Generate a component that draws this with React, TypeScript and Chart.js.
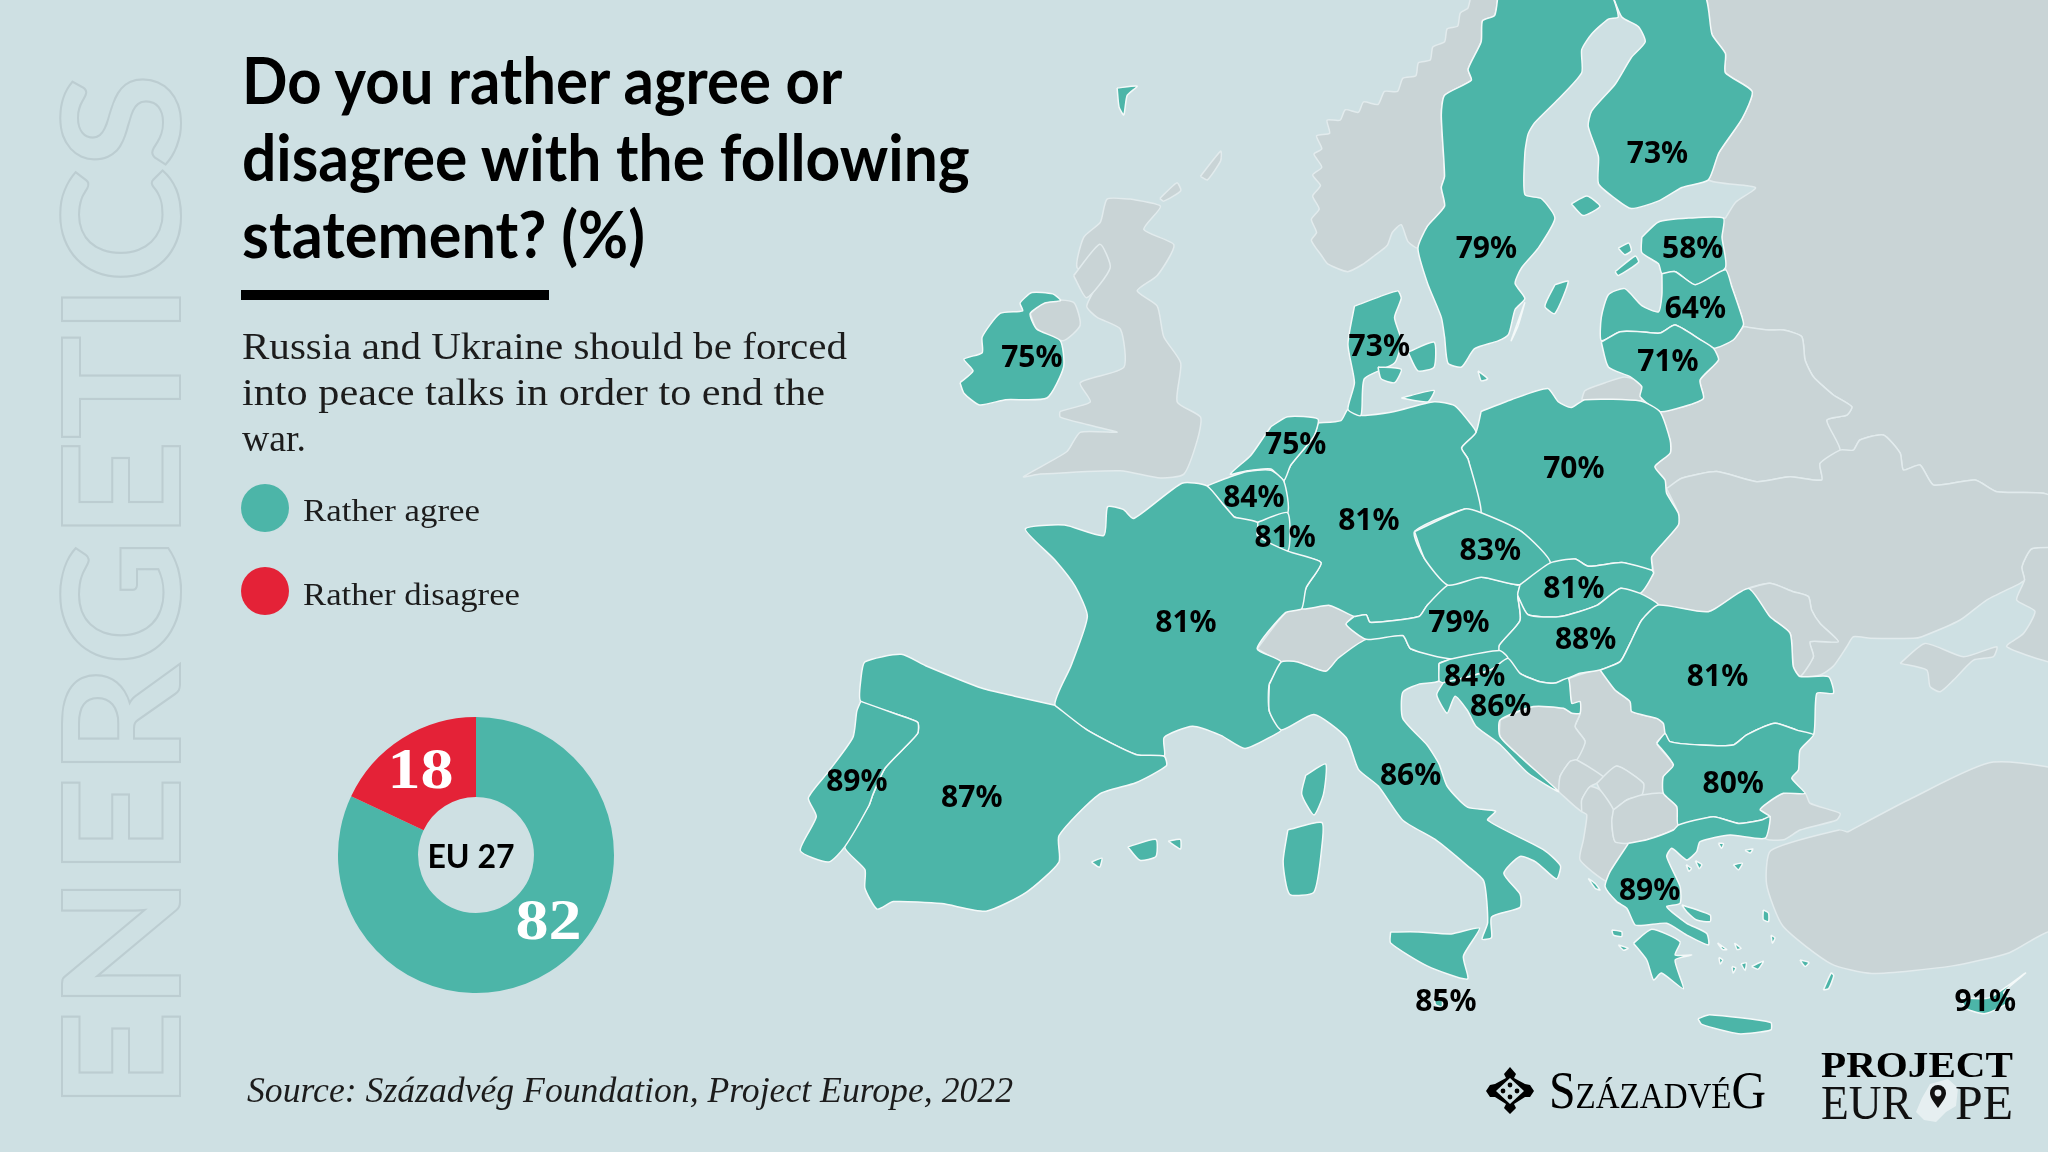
import React, { useEffect, useRef } from 'react';
import { Chart, registerables } from 'chart.js';

Chart.register(...registerables);

const SEA = '#cee0e3';
const TEAL = '#4cb5a8';
const RED = '#e42237';
const LAND = '#c9d4d6';

// doughnut
const donutCategories = ['Rather agree', 'Rather disagree'];
const donutValues = [82, 18];

// survey result per country, with the spot of its label in map units (1568 x 882)
const countries = ['Finland', 'Sweden', 'Estonia', 'Latvia', 'Lithuania', 'Denmark', 'Ireland', 'Netherlands', 'Poland', 'Belgium', 'Luxembourg', 'Germany', 'Czechia', 'Slovakia', 'France', 'Austria', 'Hungary', 'Romania', 'Slovenia', 'Croatia', 'Bulgaria', 'Portugal', 'Spain', 'Italy', 'Greece', 'Malta', 'Cyprus'];
const agreeShare = [73, 79, 58, 64, 71, 73, 75, 75, 70, 84, 81, 81, 83, 81, 81, 79, 88, 81, 84, 86, 80, 89, 87, 86, 89, 85, 91];
const labelX = [1269, 1138, 1296, 1298, 1277, 1056, 790, 992, 1205, 960, 984, 1048, 1141, 1205, 908, 1117, 1214, 1315, 1129, 1149, 1327, 656, 744, 1080, 1263, 1107, 1520];
const labelY = [116, 189, 189, 235, 275, 264, 272, 339, 357, 379, 410, 397, 420, 449, 475, 475, 488, 516, 516, 539, 598, 597, 609, 592, 680, 765, 765];

// outlines, x,y pairs in map units
const finland = [1234, -5, 1241.7, 13, 1254.5, 20.5, 1259.6, 32, 1249, 44, 1236.6, 64.5, 1218.6, 85, 1216, 96.7, 1223.8, 120, 1223.8, 140.6, 1236.6, 152, 1249, 159.7, 1270, 153.8, 1287.7, 143.6, 1308, 137.7, 1316, 117, 1333.8, 90.8, 1341.5, 70, 1321, 55.7, 1321, 41, 1310.8, 26.4, 1304, -5];
const sweden = [1147, -5, 1144.4, 11.7, 1135, 16, 1134, 32, 1124, 53, 1126.5, 61.5, 1106, 73, 1103.5, 88, 1106, 135, 1103.5, 143.6, 1106, 158, 1093, 173, 1085.6, 190, 1093, 217, 1103.5, 243, 1106, 258, 1108.6, 278, 1119, 281, 1129, 267, 1147, 261, 1155, 256, 1160, 237, 1167.5, 228.5, 1160, 217, 1165, 205, 1177.7, 190, 1190.5, 167, 1180, 152, 1167.5, 149, 1167.5, 117, 1170, 102.5, 1175, 94, 1193, 76, 1211, 55.7, 1211, 38, 1218.6, 26, 1231.4, 14.6, 1239, 13, 1232, -5];
const estonia = [1257, 181.7, 1269.8, 170, 1293, 167, 1319.5, 167, 1318.4, 181.7, 1321, 205, 1298, 218, 1282.6, 208, 1272.4, 209.5, 1269.8, 202, 1257, 193.4];
const latvia = [1272.4, 209.5, 1282.6, 208, 1298, 218, 1321, 206.6, 1326, 219.8, 1333.8, 243, 1334.8, 248.9, 1327, 260.3, 1311.9, 266.7, 1301.7, 260, 1282.5, 248.9, 1271, 255, 1255.7, 254, 1240.4, 254, 1226, 260.8, 1226, 243, 1231.4, 225.6, 1244, 221, 1257, 234, 1269.8, 238.8, 1272.4, 225.6];
const lithuania = [1226, 262, 1240.4, 254, 1255.7, 254, 1271, 255, 1282.5, 248.9, 1301.7, 260, 1311.9, 266.7, 1315.7, 275.6, 1301.6, 291, 1304.2, 305, 1288.9, 311.4, 1271, 315.2, 1255.7, 303.7, 1257, 296, 1248, 288.4, 1231.4, 281];
const poland = [1134, 315, 1157, 306, 1185, 297.4, 1193, 307.6, 1203, 312, 1213.5, 306, 1256, 307, 1271, 315.2, 1278.7, 337, 1278.7, 347, 1267, 357.3, 1274.8, 367.5, 1276, 377.7, 1285, 393, 1285, 402, 1264.6, 426.2, 1264.7, 436.6, 1241.7, 430.7, 1216, 433.6, 1206, 428, 1187, 431, 1165, 407, 1134, 392.6, 1124, 351.6, 1119, 342.8, 1130, 331];
const germany = [1009, 323.8, 1026.7, 322, 1032, 313.5, 1042, 318, 1047, 318, 1067.7, 315, 1098, 307.6, 1113.7, 310.6, 1124, 322, 1130, 331, 1119, 342.8, 1124, 351.6, 1134, 392.6, 1121.4, 389.7, 1083, 407, 1090.7, 427.8, 1108.6, 448, 1092.6, 463.5, 1086.4, 472, 1049, 476.5, 1046, 470.7, 1036.8, 472, 1018, 463.5, 996.6, 466, 1000, 450, 1011.4, 430.7, 985.8, 422, 985.8, 392.6, 983, 369, 988.3, 356, 1006, 334];
const netherlands = [973, 326.7, 985.8, 319, 1009, 320.8, 1006, 334, 988.3, 356, 983, 367.7, 973, 359, 955, 360.4, 942, 363, 957.6, 348.7, 967.9, 334];
const belgium = [924, 372, 942, 365, 955, 361, 973, 360, 983, 368.6, 985.8, 392.6, 962.7, 400, 944.8, 395.5, 937, 386.8];
const luxembourg = [962.7, 400, 985.8, 392.6, 985.8, 422, 962.7, 410];
const france = [945, 396, 962.7, 400, 962.7, 410, 985.8, 422, 1011.4, 430.7, 1000, 450, 996.6, 466, 984.2, 469, 962.5, 496.7, 981, 506.8, 971.8, 524, 971.8, 544.4, 981, 558.9, 975, 563, 953.2, 573, 934.7, 563, 913, 556, 891.3, 564.6, 891.3, 579, 869.6, 577.6, 832.5, 559, 807.7, 540, 820, 509.7, 832.5, 472, 823.2, 449, 807.7, 428.8, 785, 405, 815, 402, 845, 410, 848, 388, 860, 390, 868, 397, 905, 370, 924, 372, 937, 386.8];
const spain = [807.7, 540, 832.5, 559, 869.6, 577.6, 891.3, 579, 893, 586.3, 869.6, 599.3, 841.8, 608, 810.8, 639.8, 810.8, 660, 786, 683, 755, 697.6, 721, 691.8, 684, 690.3, 671.5, 696, 662.2, 680, 662.2, 665.8, 646.7, 648.4, 665.3, 616.7, 668.4, 608, 677.7, 588, 702.5, 561.7, 702.5, 553, 687, 547, 659, 537, 659, 521, 662.2, 506.8, 690, 501, 708.7, 509.7, 752, 527, 776.8, 533];
const portugal = [659, 537, 687, 547, 702.5, 553, 702.5, 561.7, 677.7, 588, 668.4, 608, 665.3, 616.7, 646.7, 648.4, 634.4, 660, 612.7, 651.3, 625, 625.3, 618.9, 610.9, 634.4, 590.6, 653, 564.6, 656, 544.4];
const italy = [971.8, 524, 981, 506.8, 993.5, 506.8, 1015, 514, 1024.5, 504, 1046, 489.5, 1074, 486.6, 1080, 496.7, 1111, 504.5, 1101.8, 508, 1101.8, 521.3, 1086, 524, 1074, 530, 1074, 550, 1092.6, 570.4, 1101.8, 585, 1108, 602, 1123.5, 618, 1145, 621, 1139, 628, 1182.4, 651, 1194.7, 662.9, 1191.6, 673, 1176, 660, 1163.8, 655.7, 1151.4, 668.7, 1163.8, 684.6, 1163.8, 694.7, 1142, 702, 1142, 717.8, 1134.7, 719, 1139, 706.2, 1136, 674.5, 1123.5, 662.9, 1098.8, 642.7, 1074, 628, 1055.4, 602, 1040, 589, 1030.6, 564.6, 1006, 547, 981, 558.9, 971.8, 544.4];
const sicily = [1064.7, 713.5, 1086.4, 713.5, 1111, 715, 1132.8, 710.6, 1120.4, 732, 1123.5, 749.6, 1092.6, 739.5, 1064.7, 722];
const sardinia = [986, 635.4, 1012, 629.7, 1012, 648.4, 1006, 683, 987.3, 684.6, 982.4, 660];
const corsica = [999.7, 593.5, 1015, 585, 1013.3, 608, 1006, 624, 996.6, 608];
const austria = [1036.8, 472, 1030.6, 478, 1046, 489.5, 1074, 486.6, 1080, 496.7, 1111, 504.5, 1148, 498, 1148, 494, 1163.8, 475, 1162, 456, 1163.8, 447.6, 1162, 448, 1134, 442, 1108.6, 448, 1092.6, 463.5, 1086.4, 472, 1049, 476.5, 1046, 470.7];
const czechia = [1083, 407, 1121.4, 389.7, 1134, 392.6, 1165, 407, 1187, 431, 1163.8, 447.6, 1134, 442, 1108.6, 448, 1090.7, 427.8];
const slovakia = [1163.8, 447.6, 1187, 431, 1206, 428, 1216, 433.6, 1241.7, 430.7, 1264.7, 436.6, 1266, 439, 1255.7, 454.3, 1240.4, 450.5, 1222.6, 463.5, 1194.7, 472, 1170, 470.7, 1162, 456];
const hungary = [1162, 456, 1170, 470.7, 1194.7, 472, 1222.6, 463.5, 1240.4, 450.5, 1255.7, 454.3, 1269.7, 463.2, 1257, 474.7, 1248, 492.6, 1240.4, 506.6, 1225, 513, 1209.7, 515.5, 1200.8, 519.3, 1190.6, 523, 1179, 522, 1163.8, 515.5, 1148.5, 502.8, 1148, 494, 1163.8, 475];
const romania = [1225, 513, 1240.4, 506.6, 1248, 492.6, 1257, 474.7, 1269.7, 463.2, 1308, 468.3, 1338.6, 450.5, 1355.2, 472.2, 1370.6, 484.9, 1373, 510.4, 1378.2, 518, 1399.9, 518, 1403.7, 530.8, 1391, 530.8, 1388.4, 562.7, 1375.6, 559, 1359, 553.8, 1337.3, 562.7, 1327, 570.4, 1301.6, 570.4, 1278.6, 567.8, 1274.8, 561.5, 1273.5, 553.8, 1268.4, 550, 1249.3, 544.9, 1248, 537.2, 1236.5, 528.3];
const bulgaria = [1268.4, 569, 1274.8, 561.5, 1278.6, 567.8, 1301.6, 570.4, 1327, 570.4, 1337.3, 562.7, 1359, 553.8, 1375.6, 559, 1388.4, 562.7, 1378.2, 574.2, 1376.9, 589.5, 1371.8, 595.9, 1382, 607.4, 1365.4, 607.4, 1352.7, 615, 1347.6, 620, 1355.2, 625.3, 1348.8, 627.8, 1331, 630.4, 1311.8, 625.3, 1285, 631.6, 1283.8, 617.6, 1273.5, 607.4, 1273.5, 594.6, 1281.2, 585.7];
const greece = [1246.8, 645.7, 1260.8, 643, 1281.2, 635.5, 1285, 631.6, 1311.8, 625.3, 1331, 630.4, 1348.8, 627.8, 1355.2, 625.3, 1351.4, 641.8, 1324.6, 639.3, 1301.6, 644.4, 1299, 652, 1291.4, 658.4, 1280, 649.5, 1276.1, 655.9, 1286.3, 678.8, 1286.3, 691.6, 1276.1, 694.2, 1291.4, 706.9, 1306.7, 714.6, 1308, 723.5, 1291.4, 715.9, 1276.1, 706.9, 1260.8, 708.2, 1251.9, 708.2, 1245.5, 695.4, 1237.8, 690.3, 1228.9, 678.8, 1232.7, 667.4];
const peloponnese = [1250.6, 722.2, 1264.6, 711.5, 1286.3, 721, 1282.5, 731.2, 1295.2, 731.2, 1282.5, 735, 1288.9, 757, 1272, 745, 1266, 750.3, 1260.8, 735];
const crete = [1300, 780, 1309, 777, 1355.7, 782.8, 1355.7, 788.6, 1331, 791.5, 1303, 784.3];
const euboea = [1287.6, 692.9, 1309.3, 700.5, 1309.3, 705.6, 1299, 704.4, 1291.4, 698];
const lesbos = [1350, 696.7, 1354, 699, 1354, 705.6, 1350, 704];
const rhodes = [1396, 758, 1402, 745, 1404, 747, 1400, 757];
const thasos = [1315.6, 645.7, 1319.5, 645.7, 1318.2, 649.5];
const corfu = [1216, 672.5, 1221.2, 676.3, 1225, 681.4, 1221.2, 680];
const kefalonia = [1234, 712, 1241.6, 713.3, 1241.6, 717, 1235.3, 716];
const zakynthos = [1239, 723.5, 1246.5, 726, 1243, 727.5];
const chalkidiki1 = [1291, 662, 1295, 665, 1293, 667];
const chalkidiki2 = [1298, 659, 1303, 662, 1301, 665];
const samothrace = [1336, 651, 1342, 650, 1340, 653];
const limnos = [1327, 662, 1334, 661, 1331, 666];
const chios = [1356, 716, 1359, 718, 1357, 722];
const andros = [1315, 722, 1322, 727, 1319, 727];
const tinos = [1328, 722, 1333, 726, 1330, 727];
const syros = [1316, 733, 1319, 735, 1317, 738];
const naxos = [1333, 738, 1337, 737, 1336, 743];
const paros = [1326, 740, 1329, 741, 1327, 745];
const amorgos = [1341, 740, 1350, 736, 1346, 742];
const kos = [1378, 735, 1385, 737, 1382, 740];
const cyprus = [1501, 764, 1522.9, 764, 1550.8, 745, 1534, 760, 1540, 766, 1520, 776, 1505, 772];
const malta = [1098, 762, 1104, 764, 1104, 771, 1099, 769];
const slovenia = [1101.8, 508, 1111, 504.5, 1148, 498, 1154.5, 504, 1142, 512.6, 1123.5, 518.4, 1105, 522.7, 1101.8, 521.3];
const croatia = [1105, 522.7, 1123.5, 518.4, 1142, 512.6, 1154.5, 504, 1163.8, 515.5, 1179, 522, 1190.6, 523, 1200.8, 519.3, 1203.4, 538.5, 1209.7, 537, 1209.7, 546.1, 1203.4, 546.1, 1197, 542.3, 1174, 541, 1148.5, 551.2, 1148.5, 564, 1163.8, 579.3, 1193.2, 606, 1170, 592, 1148.5, 570, 1130, 556, 1123.5, 544, 1114, 533, 1108, 546, 1100, 532];
const ireland = [735, 293, 745, 284, 738, 275, 752, 270, 752, 258, 765.7, 240, 783, 238, 781, 232, 790, 224, 806, 225, 812, 230, 800, 232, 788.7, 240, 793.8, 252, 811.8, 260.8, 814.3, 281, 801.5, 304.7, 770, 306, 750, 310, 738, 301];
const jutland = [1037, 234.4, 1070, 222.7, 1072.8, 228.5, 1067.7, 243, 1072.8, 260.8, 1067.7, 278, 1044.6, 290, 1042, 318, 1032, 313.5, 1037, 293, 1032, 263.7];
const zealand = [1078, 269.6, 1098, 262, 1098, 281, 1085.6, 284];
const funen = [1055, 281, 1072.8, 282.7, 1067.7, 293, 1057.4, 290];
const lolland = [1072.8, 304.7, 1098, 298.9, 1093, 307.7];
const bornholm = [1131.6, 284, 1139, 290, 1134, 291.5];
const gotland = [1190.5, 218, 1200.7, 215.4, 1190.5, 240, 1182.8, 234.4];
const oland = [1167.5, 231.5, 1157, 260.8, 1162.4, 249];
const saaremaa = [1236.6, 208, 1252, 196, 1254.5, 200.7, 1239, 211];
const hiiumaa = [1239, 190, 1247, 186, 1249, 192, 1244, 195];
const aland = [1203, 156, 1215, 150, 1225, 158, 1212, 165];
const faroe = [855.3, 67.4, 870.6, 66, 863, 73, 860.4, 88, 856.8, 82];
const mallorca = [863.5, 648.4, 885, 642.7, 885, 655.7, 872.7, 658.6];
const menorca = [894.4, 644, 903.7, 642.7, 903.7, 650];
const ibiza = [835.6, 660, 843.6, 657, 841.8, 664];

const norway = [1129, -20, 1124, 6, 1118, 10, 1116, 20, 1108, 22, 1106, 32, 1097, 36, 1095, 46, 1086, 48, 1084, 58, 1074, 60, 1070, 70, 1060, 70, 1055, 80, 1044, 78, 1040, 86, 1030, 84, 1026, 92, 1016, 92, 1018, 102, 1008, 104, 1012, 114, 1006, 118, 1012, 128, 1005, 134, 1011, 142, 1005, 150, 1010, 160, 1004, 168, 1008, 178, 1004, 184, 1012, 196, 1016.5, 202, 1031.8, 208, 1044, 202, 1052, 196, 1062, 188, 1066, 178, 1072.8, 172, 1078, 185, 1085.6, 190, 1093, 173, 1106, 158, 1103.5, 143.6, 1106, 135, 1103.5, 88, 1106, 73, 1126.5, 61.5, 1124, 53, 1134, 32, 1135, 16, 1144.4, 11.7, 1147, -20];
const britain = [865.5, 152.4, 888.5, 158, 875.7, 175.8, 898.8, 187.5, 886, 211, 870.6, 222.7, 886, 234.4, 891, 257.8, 904, 278, 901.3, 307.7, 919.2, 319.4, 916.7, 337, 906.4, 363, 888.5, 366, 857.8, 360.4, 796.4, 363, 783.6, 365, 816.9, 345.7, 827, 331, 855.3, 331, 832, 325, 811.8, 319.4, 811.8, 315, 834.8, 307.7, 827, 293, 860.4, 281.3, 857.8, 252, 840, 243, 832, 234.4, 842.5, 211, 824.6, 205, 829.7, 181.7, 842.5, 170, 847.6, 152.4];
const northernIreland = [788.7, 240, 801.5, 230, 822, 231.5, 827, 249, 814, 260.8, 793.8, 252];
const shetland = [919, 135, 934.6, 115.7, 934.6, 123, 924.4, 137.7];
const orkney = [888, 152, 901, 140, 904, 146, 891, 154];
const hebrides = [822, 211, 842, 187, 850, 205, 832, 228];
const russia = [1304, -20, 1304, 0, 1310.8, 26.4, 1321, 41, 1321, 55.7, 1341.5, 70, 1333.8, 90.8, 1316, 117, 1308, 137.7, 1344, 143.6, 1328.7, 155, 1321, 167, 1319.5, 167, 1318.4, 181.7, 1321, 205, 1326, 219.8, 1333.8, 243, 1334.8, 250, 1354, 252.7, 1365.5, 252.7, 1379.5, 257.8, 1382, 275.6, 1388.4, 288.4, 1403.7, 302.4, 1417.8, 311.4, 1414, 317.8, 1398.6, 321.6, 1408.8, 344.6, 1419, 344.6, 1424, 336.9, 1442, 333, 1454.8, 347, 1457.3, 359.9, 1470, 356, 1480.3, 371.3, 1512.2, 367.5, 1528.8, 376.5, 1564.5, 377.7, 1600, 392, 1600, -20];
const russiaSouth = [1600, 418, 1556, 420, 1548, 434, 1550, 444, 1544, 459.4, 1558, 468, 1549.2, 485, 1536.4, 495, 1568, 506.6, 1600, 512];
const kaliningrad = [1211, 306, 1256, 307, 1256, 293, 1244, 288.6, 1229, 293, 1213.5, 299];
const belarus = [1334.8, 250, 1354, 252.7, 1365.5, 252.7, 1379.5, 257.8, 1382, 275.6, 1388.4, 288.4, 1403.7, 302.4, 1417.8, 311.4, 1414, 317.8, 1398.6, 321.6, 1408.8, 344.6, 1393.5, 354.8, 1394.8, 367.5, 1370.6, 365, 1345, 368.8, 1314.4, 361, 1287.6, 366.2, 1276, 374, 1267, 357.3, 1278.7, 347, 1278.7, 337, 1270.5, 315.2, 1288.9, 311.4, 1304.2, 305, 1301.6, 291, 1315.7, 275.6, 1311.9, 266.7, 1327, 260];
const ukraine = [1276, 374, 1287.6, 366.2, 1314.4, 361, 1345, 368.8, 1370.6, 365, 1394.8, 367.5, 1393.5, 354.8, 1408.8, 344.6, 1419, 344.6, 1424, 336.9, 1442, 333, 1454.8, 347, 1457.3, 359.9, 1470, 356, 1480.3, 371.3, 1512.2, 367.5, 1528.8, 376.5, 1564.5, 377.7, 1600, 392, 1600, 418, 1556, 420, 1548, 434, 1550, 444, 1546.6, 446.6, 1521, 459.4, 1500.7, 474.7, 1471.4, 487.5, 1465, 488.7, 1431.8, 488.7, 1419, 487.5, 1414, 495, 1403.7, 510, 1393.5, 516.8, 1378.2, 518, 1388.4, 502.8, 1385.9, 491.3, 1407.5, 491.3, 1393.5, 477.3, 1387, 467, 1384.6, 456.8, 1373, 453, 1355.2, 446.6, 1338.6, 450.5, 1308, 468.3, 1269.7, 463.2, 1255.7, 454.3, 1266, 439, 1264.6, 426.2, 1285, 402, 1285, 393];
const moldova = [1338.6, 450.5, 1355.2, 446.6, 1373, 453, 1384.6, 456.8, 1387, 467, 1393.5, 477.3, 1407.5, 491.3, 1385.9, 491.3, 1388.4, 502.8, 1378.2, 518, 1373, 510.4, 1370.6, 484.9, 1355.2, 472.2];
const crimea = [1454.8, 507.9, 1473.9, 492.6, 1503.3, 502.8, 1528.8, 495.1, 1526.2, 502.8, 1511, 505.4, 1495.6, 520.7, 1485.4, 529.6, 1477.7, 525.7, 1475.2, 513];
const turkey = [1414.5, 637, 1464, 611, 1526, 583.4, 1600, 599, 1600, 713.5, 1568, 713.5, 1538.4, 729.4, 1495, 739.5, 1433, 745.3, 1402, 738, 1365, 709, 1352.6, 677.3, 1355.7, 651.3, 1408, 635.4];
const thrace = [1352.7, 615, 1365.4, 607.4, 1382, 607.4, 1385.8, 615, 1408.8, 622.7, 1406.3, 627.8, 1378.2, 635.5, 1365.4, 643, 1351.4, 641.8, 1355.2, 625.3, 1347.6, 620];
const switzerland = [962.5, 496.7, 984.2, 469.3, 996.6, 466, 1018, 463.5, 1036.8, 470.7, 1030.6, 478, 1046, 489.5, 1024.5, 504, 1015, 514, 993.5, 507, 981, 507];
const serbia = [1200.8, 519.3, 1225, 513, 1236.5, 528.3, 1248, 537.2, 1249.3, 544.9, 1268.4, 550, 1273.5, 553.8, 1274.8, 561.5, 1268.4, 569, 1281.2, 585.7, 1273.5, 594.6, 1273.5, 607.4, 1257, 608.7, 1258.2, 599.7, 1237.8, 586.5, 1228.9, 595.9, 1207.2, 581.9, 1213.6, 567.8, 1205.9, 556.4, 1209.7, 546.1, 1203.4, 538.5];
const bosnia = [1148.5, 551.2, 1174, 541, 1197, 542.3, 1203.4, 546.1, 1209.7, 546.1, 1205.9, 556.4, 1213.6, 567.8, 1207.2, 581.9, 1202, 583, 1194.4, 594.6, 1193.2, 606, 1163.8, 579.3, 1148.5, 564];
const montenegro = [1193.2, 606, 1194.4, 594.6, 1202, 583, 1207.2, 581.9, 1228.9, 595.9, 1222.5, 599.7, 1217.4, 602.3, 1211, 612.5, 1211, 621.4];
const kosovo = [1222.5, 599.7, 1237.8, 586.5, 1258.2, 599.7, 1257, 608.7, 1245.5, 612.5, 1235.3, 620, 1225, 604.8];
const albania = [1211, 621.4, 1214.9, 624, 1212.3, 643, 1209.7, 658.4, 1230.2, 675, 1232.7, 667.4, 1246.8, 645.7, 1236.5, 644.4, 1234, 629, 1235.3, 620, 1225, 604.8, 1217.4, 602.3, 1211, 612.5];
const macedonia = [1235.3, 620, 1245.5, 612.5, 1257, 608.7, 1273.5, 607.4, 1283.8, 617.6, 1285, 631.6, 1281.2, 635.5, 1260.8, 643, 1246.8, 645.7, 1236.5, 644.4, 1234, 629];

const greyShapes = [russia, russiaSouth, kaliningrad, belarus, ukraine, moldova, crimea, turkey, thrace, norway, britain, northernIreland, shetland, orkney, hebrides, switzerland, serbia, bosnia, montenegro, kosovo, albania, macedonia];
const tealShapes = [finland, sweden, estonia, latvia, lithuania, poland, germany, netherlands, belgium, luxembourg, france, spain, portugal, italy, sicily, sardinia, corsica, austria, czechia, slovakia, hungary, romania, bulgaria, greece, peloponnese, crete, euboea, lesbos, rhodes, thasos, corfu, kefalonia, zakynthos, chalkidiki1, chalkidiki2, samothrace, limnos, chios, andros, tinos, syros, naxos, paros, amorgos, kos, cyprus, malta, slovenia, croatia, ireland, jutland, zealand, funen, lolland, bornholm, gotland, oland, saaremaa, hiiumaa, aland, faroe, mallorca, menorca, ibiza];

const toPoints = (flat: number[]) => {
  const pts: { x: number; y: number }[] = [];
  for (let i = 0; i < flat.length; i += 2) pts.push({ x: flat[i], y: flat[i + 1] });
  pts.push({ x: flat[0], y: flat[1] });
  return pts;
};

const shapeDataset = (flat: number[], color: string, edge: string, order: number) => ({
  data: toPoints(flat),
  showLine: true,
  fill: 'shape',
  backgroundColor: color,
  borderColor: edge,
  borderWidth: 1.5,
  pointRadius: 0,
  tension: 0.2,
  order,
});

const mapLabels = {
  id: 'mapLabels',
  afterDatasetsDraw(chart: any) {
    const meta = chart.getDatasetMeta(chart.data.datasets.length - 1);
    const { ctx } = chart;
    ctx.save();
    ctx.font = 'bold 30px "Noto Sans"';
    ctx.fillStyle = '#000';
    ctx.textAlign = 'center';
    ctx.textBaseline = 'middle';
    meta.data.forEach((pt: any, i: number) => {
      ctx.fillText(agreeShare[i] + '%', pt.x, pt.y + 3);
    });
    ctx.restore();
  },
};

const donutLabels = {
  id: 'donutLabels',
  afterDatasetsDraw(chart: any) {
    const { ctx } = chart;
    const arcs = chart.getDatasetMeta(0).data;
    const nudge = [[20, -14], [-3, 1]];
    ctx.save();
    ctx.textAlign = 'center';
    ctx.textBaseline = 'middle';
    ctx.fillStyle = '#fff';
    ctx.font = 'bold 58px "Liberation Serif"';
    arcs.forEach((arc: any, i: number) => {
      const c = arc.getCenterPoint();
      ctx.save();
      ctx.translate(c.x + nudge[i][0], c.y + nudge[i][1]);
      ctx.scale(1.14, 1);
      ctx.fillText(String(donutValues[i]), 0, 0);
      ctx.restore();
    });
    ctx.fillStyle = '#000';
    ctx.font = 'bold 32px Lato';
    ctx.fillText('EU 27', arcs[0].x - 5, arcs[0].y + 3);
    ctx.restore();
  },
};

const measureCtx = document.createElement('canvas').getContext('2d')!;

// one line of text with its left edge, baseline and width
function Line({ text, x, base, width, font, color = '#000' }: any) {
  measureCtx.font = font;
  const m = measureCtx.measureText(text);
  const asc = m.fontBoundingBoxAscent;
  const desc = m.fontBoundingBoxDescent;
  return (
    <div
      style={{
        position: 'absolute',
        left: x,
        top: base - asc,
        font,
        lineHeight: `${asc + desc}px`,
        color,
        whiteSpace: 'nowrap',
        transformOrigin: '0 0',
        transform: `scaleX(${width / m.width})`,
      }}
    >
      {text}
    </div>
  );
}

function Dot({ y, color }: { y: number; color: string }) {
  return <div style={{ position: 'absolute', left: 241, top: y - 24, width: 48, height: 48, borderRadius: '50%', background: color }} />;
}

// the faint outlined word running up the left side
function SideWord() {
  const font = 'bold 163px Lato';
  measureCtx.font = font;
  const m = measureCtx.measureText('ENERGETICS');
  return (
    <div
      style={{
        position: 'absolute',
        left: 57,
        top: 1110,
        font,
        lineHeight: '120px',
        height: 120,
        color: 'transparent',
        WebkitTextStroke: '2px #bccdd1',
        whiteSpace: 'nowrap',
        transformOrigin: '0 0',
        transform: `rotate(-90deg) scaleX(${1037 / m.width})`,
      }}
    >
      ENERGETICS
    </div>
  );
}

function MapChart() {
  const ref = useRef<HTMLCanvasElement>(null);
  useEffect(() => {
    const grey = greyShapes.map((s, i) => shapeDataset(s, LAND, '#e2ebed', 1000 - i));
    const teal = tealShapes.map((s, i) => shapeDataset(s, TEAL, '#f4f9f9', 500 - i));
    const chart = new Chart(ref.current!, {
      type: 'scatter',
      data: {
        datasets: [
          ...grey,
          ...teal,
          {
            label: 'Rather agree',
            data: countries.map((_, i) => ({ x: labelX[i], y: labelY[i] })),
            pointRadius: 0,
            showLine: false,
            order: 0,
          },
        ] as any,
      },
      options: {
        animation: false,
        responsive: false,
        events: [],
        layout: { padding: 0 },
        plugins: { legend: { display: false }, tooltip: { enabled: false } },
        scales: {
          x: { type: 'linear', display: false, min: 0, max: 1568 },
          y: { type: 'linear', display: false, min: 0, max: 882, reverse: true },
        },
      },
      plugins: [mapLabels],
    });
    return () => chart.destroy();
  }, []);
  return <canvas ref={ref} width={2048} height={1152} style={{ position: 'absolute', left: 0, top: 0 }} />;
}

function DonutChart() {
  const ref = useRef<HTMLCanvasElement>(null);
  useEffect(() => {
    const chart = new Chart(ref.current!, {
      type: 'doughnut',
      data: {
        labels: donutCategories,
        datasets: [{ data: donutValues, backgroundColor: [TEAL, RED], borderWidth: 0 }],
      },
      options: {
        animation: false,
        responsive: false,
        events: [],
        cutout: '42%',
        layout: { padding: 0 },
        plugins: { legend: { display: false }, tooltip: { enabled: false } },
      },
      plugins: [donutLabels],
    });
    return () => chart.destroy();
  }, []);
  return <canvas ref={ref} width={276} height={276} style={{ position: 'absolute', left: 338, top: 717 }} />;
}

export default function App() {
  return (
    <div style={{ position: 'absolute', left: 0, top: 0, width: 2048, height: 1152, overflow: 'hidden', background: SEA }}>
      <MapChart />
      <SideWord />

      <Line text="Do you rather agree or" x={242} base={104} width={603} font='bold 65px Lato' />
      <Line text="disagree with the following" x={242} base={181} width={729} font='bold 65px Lato' />
      <Line text="statement? (%)" x={242} base={258} width={403} font='bold 65px Lato' />
      <div style={{ position: 'absolute', left: 241, top: 290, width: 308, height: 10, background: '#000' }} />

      <Line text="Russia and Ukraine should be forced" x={242} base={359} width={605} font='37px "Liberation Serif"' color='#1c1c1c' />
      <Line text="into peace talks in order to end the" x={242} base={405} width={583} font='37px "Liberation Serif"' color='#1c1c1c' />
      <Line text="war." x={242} base={451} width={64} font='37px "Liberation Serif"' color='#1c1c1c' />

      <Dot y={508} color={TEAL} />
      <Line text="Rather agree" x={303} base={521} width={177} font='31px "Liberation Serif"' color='#1c1c1c' />
      <Dot y={591} color={RED} />
      <Line text="Rather disagree" x={303} base={605} width={217} font='31px "Liberation Serif"' color='#1c1c1c' />

      <DonutChart />

      <Line text="Source: Századvég Foundation, Project Europe, 2022" x={247} base={1102} width={766} font='italic 35px "Liberation Serif"' color='#1c1c1c' />

      <svg width={2048} height={1152} style={{ position: 'absolute', left: 0, top: 0, pointerEvents: 'none' }}>
        <path d="M1510 1067 L1516 1074 L1514 1078 L1525 1084 L1530 1085 L1534 1091 L1530 1097 L1525 1097 L1514 1104 L1516 1108 L1510 1114 L1504 1108 L1506 1104 L1495 1097 L1490 1097 L1486 1091 L1490 1085 L1495 1084 L1506 1078 L1504 1074 Z" fill="#000" />
        <path d="M1510 1078 L1524 1091 L1510 1104 L1496 1091 Z" fill={SEA} />
        <circle cx="1510" cy="1085" r="2.4" fill="#000" />
        <circle cx="1503" cy="1091" r="2.4" fill="#000" />
        <circle cx="1517" cy="1091" r="2.4" fill="#000" />
        <circle cx="1510" cy="1097" r="2.4" fill="#000" />
        <path d="M1930 1084 L1948 1079 L1958 1088 L1956 1106 L1946 1112 L1936 1122 L1924 1120 L1916 1112 L1922 1098 Z" fill="#e6eff1" />
        <path d="M1938 1108 C1933 1101 1930 1097 1930 1093 A8 8 0 0 1 1946 1093 C1946 1097 1943 1101 1938 1108 Z" fill="#111" />
        <circle cx="1938" cy="1093" r="3.4" fill="#e6eff1" />
      </svg>
      <Line text="SzázadvéG" x={1549} base={1108} width={217} font='small-caps 52px "Liberation Serif"' />
      <Line text="PROJECT" x={1821} base={1077} width={192} font='bold 35px "Liberation Serif"' />
      <Line text="EUR" x={1821} base={1119} width={91} font='48px "Liberation Serif"' color='#111' />
      <Line text="PE" x={1955} base={1119} width={58} font='48px "Liberation Serif"' color='#111' />
    </div>
  );
}
